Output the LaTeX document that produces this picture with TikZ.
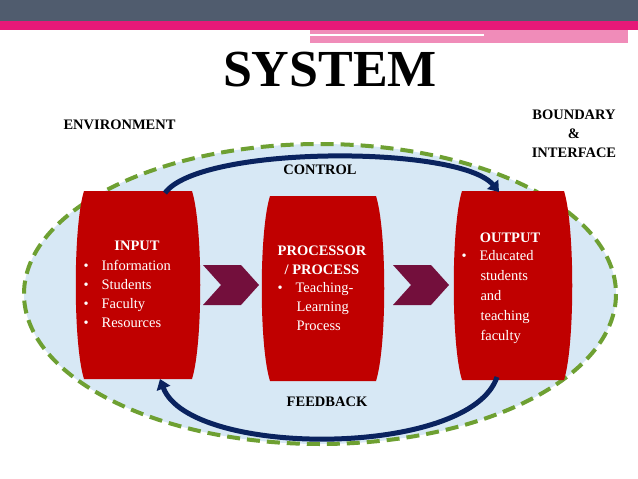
\documentclass[tikz,border=0pt]{standalone}
\usepackage{fontspec}
\setmainfont{Liberation Serif}
\usetikzlibrary{arrows.meta}
\definecolor{barred}{RGB}{192,0,0}
\definecolor{chev}{RGB}{115,15,60}
\definecolor{navy}{RGB}{10,35,95}
\definecolor{grn}{RGB}{110,160,50}
\definecolor{slate}{RGB}{80,92,110}
\definecolor{pinkb}{RGB}{230,25,120}
\definecolor{pinkl}{RGB}{240,140,185}
\definecolor{skyb}{RGB}{215,232,245}
\tikzset{
 lbl/.style={font=\bfseries\fontsize{14.5}{16}\selectfont},
 boxtxt/.style={text=white,font=\fontsize{14.5}{19}\selectfont,align=left,anchor=north west},
 hd/.style={text=white,font=\bfseries\fontsize{14.5}{19}\selectfont,align=center},
 arc/.style={navy,line width=5pt,-{Triangle[length=10pt,width=14pt]}},
}
\newcommand{\barrel}[4]{\fill[barred] (#1,#2) -- (#3,#2) .. controls ({#3+11},{#2+35}) and ({#3+11},{#4-35}) .. (#3,#4) -- (#1,#4) .. controls ({#1-11},{#4-35}) and ({#1-11},{#2+35}) .. cycle;}
\newcommand{\chevron}[2]{\fill[chev] (#1,#2) -- ({#1+38},#2) -- ({#1+56},{#2+20}) -- ({#1+38},{#2+40}) -- (#1,{#2+40}) -- ({#1+18},{#2+20}) -- cycle;}
\begin{document}
\begin{tikzpicture}[x=1pt,y=-1pt]
\useasboundingbox (0,0) rectangle (638,479);
\fill[white] (0,0) rectangle (638,479);
\fill[slate] (0,0) rectangle (638,21);
\fill[pinkb] (0,21) rectangle (638,30);
\fill[pinkl] (310,30) rectangle (628,43);
\fill[white] (310,34) rectangle (484,36);
\node[font=\bfseries\fontsize{52}{56}\selectfont] (title) at (330,70) {SYSTEM};
\fill[skyb] (320,294) ellipse (296 and 150);
\draw[grn,line width=4pt,dash pattern=on 13pt off 7pt] (320,294) ellipse (296 and 150);
\node[lbl,anchor=west] (env) at (60,125) {ENVIRONMENT};
\node[lbl,align=center,font=\bfseries\fontsize{14.5}{19}\selectfont] (bnd) at (574,134) {BOUNDARY\\\&\\INTERFACE};
\node[lbl] (ctl) at (320,170) {CONTROL};
\node[lbl] (fb) at (327,402) {FEEDBACK};
\barrel{84}{191}{192}{379}
\barrel{270}{196}{376}{381}
\barrel{462}{191}{564}{380}
\chevron{203}{265}
\chevron{393}{265}
\coordinate (inT) at (165,193);
\coordinate (outT) at (499,192);
\coordinate (outB) at (497,377);
\coordinate (inB) at (160,379);
\draw[arc] (inT) .. controls (200,145) and (460,145) .. (outT);
\draw[arc] (outB) .. controls (470,458) and (190,458) .. (inB);
\node[hd] (inh) at (137,246) {INPUT};
\node[boxtxt] (inl) at (80,257) {\textbullet\hspace{13pt}Information\\\textbullet\hspace{13pt}Students\\\textbullet\hspace{13pt}Faculty\\\textbullet\hspace{13pt}Resources};
\node[hd] (prh) at (322,260) {PROCESSOR\\/ PROCESS};
\node[boxtxt] (prl) at (274,279) {\textbullet\hspace{13pt}Teaching-\\\hspace{19pt}Learning\\\hspace{19pt}Process};
\node[hd] (outh) at (510,238) {OUTPUT};
\node[boxtxt,font=\fontsize{14.5}{20}\selectfont] (outl) at (458,247) {\textbullet\hspace{13pt}Educated\\\hspace{19pt}students\\\hspace{19pt}and\\\hspace{19pt}teaching\\\hspace{19pt}faculty};
\end{tikzpicture}
\end{document}
